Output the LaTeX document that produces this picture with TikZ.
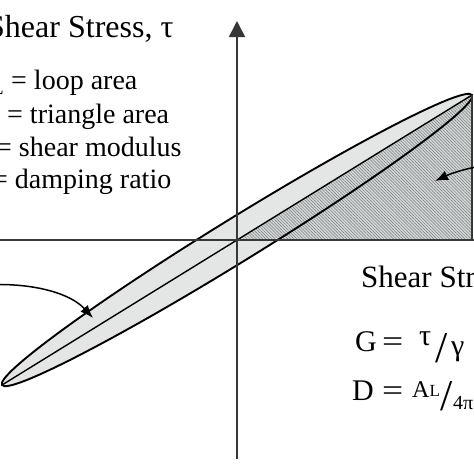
\documentclass[tikz,border=0pt]{standalone}
\usepackage{graphicx}
\usepackage{fontspec}
\setmainfont{Liberation Serif}
\usetikzlibrary{arrows.meta,patterns.meta}
\definecolor{loopfill}{RGB}{228,230,230}
\definecolor{trifill}{RGB}{212,216,216}
\definecolor{hatch}{RGB}{118,124,124}
\definecolor{axisgray}{RGB}{55,55,55}
\begin{document}
\begin{tikzpicture}[x=1pt,y=-1pt,
  axisline/.style={draw=axisgray,line width=1.6pt},
  loopline/.style={draw=black,line width=1.9pt},
  pointer/.style={draw=black,line width=1.5pt,-{Latex[length=13pt,width=10pt]}},
  bigtext/.style={inner sep=0pt,anchor=base west,font=\fontsize{32}{38}\selectfont},
  legtext/.style={inner sep=0pt,anchor=base west,font=\fontsize{28}{34}\selectfont},
  eqtext/.style={inner sep=0pt,anchor=base west,font=\fontsize{30}{36}\selectfont},
  looppath/.style={shift={(237,240)},rotate=31.68},
]
\useasboundingbox (0,0) rectangle (474,474);
\clip (0,0) rectangle (474,474);
\fill[white] (0,0) rectangle (474,474);
\coordinate (O) at (237,240);
\coordinate (T) at (472,95);
\coordinate (B) at (472,240);
\coordinate (LL) at (2,385);
% loop fill
\fill[loopfill,looppath] (0,0) ellipse (276.1 and 21.5);
% triangle
\fill[trifill] (O) -- (T) -- (B) -- cycle;
\fill[pattern={Lines[angle=-45,distance=2.2pt,line width=0.5pt]},pattern color=hatch] (O) -- (T) -- (B) -- cycle;
% loop outline
\draw[loopline,looppath] (0,0) ellipse (276.1 and 21.5);
% secant line
\draw[black,line width=1.4pt] (LL) -- (T);
\draw[axisgray,line width=2.6pt] (T) -- (B);
% axes
\coordinate (Hl) at (-5,240);
\coordinate (Hr) at (480,240);
\coordinate (Vb) at (237,459);
\coordinate (Vt) at (237,21);
\draw[axisline] (Hl) -- (Hr);
\draw[axisline,-{Triangle[length=16pt,width=16pt]}] (Vb) -- (Vt);
% pointers
\coordinate (p1s) at (-5,284.5);
\coordinate (p1e) at (93,318);
\draw[pointer] (p1s) .. controls (35,284) and (70,293) .. (p1e);
\coordinate (p2s) at (482,166);
\coordinate (p2e) at (435,181);
\draw[pointer] (p2s) .. controls (468,168) and (452,173) .. (p2e);
% texts
\node[bigtext] (title) at (-13,37) {Shear Stress, τ};
\node[legtext] (l1) at (11,89) {= loop area};
\node[legtext,anchor=base east] (s1) at (4,89) {A\raisebox{-5pt}{\fontsize{19}{19}\selectfont L}};
\node[legtext] (l2) at (7,123) {= triangle area};
\node[legtext,anchor=base east] (s2) at (0,123) {A\raisebox{-5pt}{\fontsize{19}{19}\selectfont T}};
\node[legtext] (l3) at (-4,156) {= shear modulus};
\node[legtext,anchor=base east] (s3) at (-11,156) {G};
\node[legtext] (l4) at (-8,188) {= damping ratio};
\node[legtext,anchor=base east] (s4) at (-15,188) {D};
\node[inner sep=0pt,anchor=base west,font=\fontsize{31}{37}\selectfont] (xlabel) at (361,287) {Shear Strain, γ};
% formula G
\node[eqtext] (fG) at (355,351) {G};
\node[eqtext] (fGeq) at (382,351) {\scalebox{1.25}[1]{=}};
\node[eqtext] (fGnum) at (419,345) {τ};
\node[inner sep=0pt,anchor=base west,font=\fontsize{44}{44}\selectfont] (fGsl) at (435,362) {/};
\node[eqtext] (fGden) at (451,355) {γ};
% formula D
\node[eqtext] (fD) at (352,400) {D};
\node[eqtext] (fDeq) at (382,400) {\scalebox{1.25}[1]{=}};
\node[inner sep=0pt,anchor=base west,font=\fontsize{24}{24}\selectfont] (fDA) at (412,397) {A};
\node[inner sep=0pt,anchor=base west,font=\fontsize{17}{17}\selectfont] (fDL) at (429.5,396) {L};
\node[inner sep=0pt,anchor=base west,font=\fontsize{44}{44}\selectfont] (fDsl) at (440,410) {/};
\node[inner sep=0pt,anchor=base west,font=\fontsize{20}{20}\selectfont] (fDden) at (453,409) {4π};
\end{tikzpicture}
\end{document}
